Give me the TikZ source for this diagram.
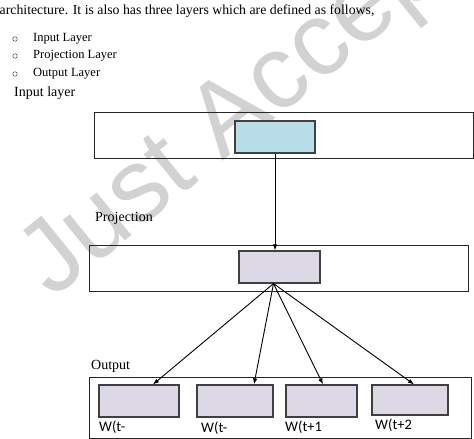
\documentclass[tikz,border=0pt]{standalone}
\usepackage{fontspec}
\setmainfont{Liberation Serif}
\newfontfamily\wordfont{Carlito}
\newfontfamily\markfont{Liberation Sans}
\usetikzlibrary{arrows.meta}
\definecolor{inblue}{HTML}{B7DDE8}
\definecolor{projlilac}{HTML}{DDD8E6}

\begin{document}
\begin{tikzpicture}[%
  x = 1pt, y = -1pt,
  >= {Latex[length = 6pt, width = 4.5pt]},
  layer/.style = {draw = black!85, line width = 0.9pt, inner sep = 0pt, minimum height = 46pt},
  unit/.style = {draw = black!75, line width = 1.2pt, inner sep = 0pt, minimum height = 32pt},
  caption/.style = {anchor = west, inner sep = 0pt, font = \fontsize{14}{16}\selectfont},
  item/.style = {anchor = west, inner sep = 0pt, font = \fontsize{12.5}{14}\selectfont},
  word/.style = {anchor = base west, inner sep = 0pt, font = \wordfont\fontsize{14.5}{16}\selectfont},
  bullet/.style = {circle, draw = black!70, line width = 0.5pt, inner sep = 0pt, minimum size = 4.5pt}]
  \useasboundingbox (0, 0) rectangle (474, 439);
  \clip (0, 0) rectangle (474, 439);

  % watermark behind everything
  \node[rotate = 39, anchor = base west, inner sep = 0pt, text = gray!35,
    font = \markfont\fontsize{104}{104}\selectfont] (mark) at (52, 300) {Just Accepted};

  \node[item, font = \fontsize{13.8}{16}\selectfont] (intro) at (-0.5, 11)
    {architecture. It is also has three layers which are defined as follows,};
  \node[bullet] (b1) at (15, 39) {};
  \node[bullet] (b2) at (15, 56) {};
  \node[bullet] (b3) at (15, 74) {};
  \node[item] (l1) at (33, 39) {Input Layer};
  \node[item] (l2) at (33, 56) {Projection Layer};
  \node[item] (l3) at (33, 74) {Output Layer};

  % input
  \node[caption] (incap) at (14, 93) {Input layer};
  \node[layer, minimum width = 379pt] (inlayer) at (283.5, 135) {};
  \node[unit, fill = inblue, minimum width = 80pt] (inword) at (275, 137) {};

  % projection
  \node[caption] (projcap) at (95, 218) {Projection};
  \node[layer, minimum width = 379pt] (projlayer) at (278.5, 268) {};
  \node[unit, fill = projlilac, minimum width = 81pt] (proj) at (279.5, 267) {};

  % output
  \node[caption] (outcap) at (91, 366) {Output};
  \node[layer, minimum width = 382pt, minimum height = 61pt] (outlayer) at (280, 407.5) {};
  \node[unit, fill = projlilac, minimum width = 80pt] (o1) at (139, 401) {};
  \node[unit, fill = projlilac, minimum width = 76pt] (o2) at (235, 401) {};
  \node[unit, fill = projlilac, minimum width = 71pt] (o3) at (321.5, 401) {};
  \node[unit, fill = projlilac, minimum width = 76pt, minimum height = 30pt] (o4) at (410, 400) {};
  \node[word] (w1) at (99, 431) {W(t-};
  \node[word] (w2) at (201, 432) {W(t-};
  \node[word] (w3) at (285, 431) {W(t+1};
  \node[word] (w4) at (375, 429) {W(t+2};

  \draw[->, line width = 0.9pt] (inword.south) -- (inword.south |- proj.north);
  \coordinate (fan) at ([xshift = -6pt]proj.south);
  \draw[->, line width = 0.9pt] (fan) -- ([xshift = 14pt]o1.north);
  \draw[->, line width = 0.9pt] (fan) -- ([xshift = 19pt]o2.north);
  \draw[->, line width = 0.9pt] (fan) -- ([xshift = 1.5pt]o3.north);
  \draw[->, line width = 0.9pt] (fan) -- ([xshift = 4pt]o4.north);
\end{tikzpicture}
\end{document}
